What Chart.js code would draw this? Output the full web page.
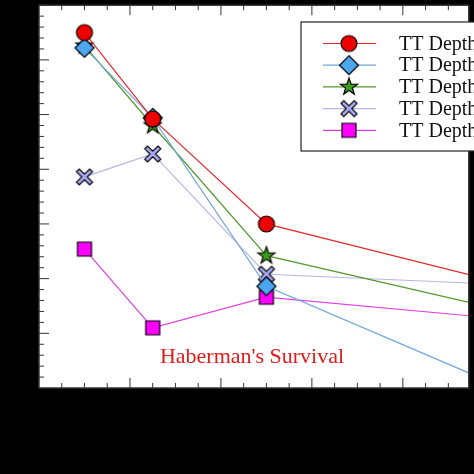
<!DOCTYPE html>
<html><head><meta charset="utf-8">
<script src="https://cdn.jsdelivr.net/npm/chart.js@4/dist/chart.umd.min.js"></script>
<style>html,body{margin:0;background:#000;}#wrap{width:474px;height:474px;}</style>
</head><body><div id="wrap"><canvas id="myChart" width="474" height="474"></canvas></div>
<script>
// depth values (x) and accuracy per series (y)
var depths = [2, 5, 10, 20];
var labels = ['TT Depth 1', 'TT Depth 2', 'TT Depth 3', 'TT Depth 4', 'TT Depth 5'];
var redVals = [32.5, 24.6, 15.0, 9.8];
var blueVals = [31.1, 24.7, 9.3, 0.4];
var greenVals = [31.3, 24.0, 12.1, 7.3];
var lilacVals = [19.3, 21.4, 10.4, 9.5];
var pinkVals = [12.7, 5.5, 8.3, 6.4];

//build marker images
function marker(kind, fill) {
    var c = document.createElement('canvas');
    c.width = 22; c.height = 22;
    var g = c.getContext('2d');
    g.translate(11, 11);
    g.fillStyle = fill; g.strokeStyle = '#000'; g.lineWidth = 1.2;
    g.beginPath();
    if (kind == 'circle') {
        g.arc(0, 0, 8, 0, Math.PI * 2);
    } else if (kind == 'diamond') {
        g.moveTo(0, -9.5); g.lineTo(9.5, 0); g.lineTo(0, 9.5); g.lineTo(-9.5, 0); g.closePath();
    } else if (kind == 'square') {
        g.rect(-7, -7, 14, 14);
    } else if (kind == 'star') {
        for (let i = 0; i < 10; i++) {
            let r = i % 2 ? 3.6 : 9;
            let a = -Math.PI / 2 + i * Math.PI / 5;
            g.lineTo(r * Math.cos(a), r * Math.sin(a));
        }
        g.closePath();
    } else if (kind == 'x') {
        let w = 2.8, l = 8;
        let pts = [[0,-w],[l-w,-l],[l,-l+w],[w,0],[l,l-w],[l-w,l],[0,w],[-l+w,l],[-l,l-w],[-w,0],[-l,-l+w],[-l+w,-l]];
        pts.forEach(p => g.lineTo(p[0], p[1]));
        g.closePath();
    }
    g.fill(); g.stroke();
    return c;
}

function series(vals) {
    return vals.map((v, i) => ({x: depths[i], y: v}));
}

var colors = ['#e8262a', '#6fa8dc', '#4f9a2b', '#b8b6e6', '#e33ee3'];
var kinds = [['circle', '#ee0000'], ['diamond', '#4da6f0'], ['star', '#3c9c1c'], ['x', '#a8a8f0'], ['square', '#ff00ff']];
var allVals = [redVals, blueVals, greenVals, lilacVals, pinkVals];
var markers = kinds.map(k => marker(k[0], k[1]));

var frame = {
    id: 'frame',
    beforeDraw(chart) {
        var ctx = chart.ctx, a = chart.chartArea;
        ctx.save();
        ctx.fillStyle = '#000';
        ctx.fillRect(0, 0, chart.width, chart.height);
        ctx.fillStyle = '#fff';
        ctx.fillRect(a.left, a.top, a.right - a.left, a.bottom - a.top);
        ctx.restore();
    },
    afterDraw(chart) {
        var ctx = chart.ctx, a = chart.chartArea;
        var xs = chart.scales.x, ys = chart.scales.y;
        ctx.save();
        ctx.strokeStyle = '#333'; ctx.lineWidth = 1.5;
        ctx.strokeRect(a.left, a.top, a.right - a.left, a.bottom - a.top);
        ctx.lineWidth = 1;
        for (let v = 1; v <= 19; v++) {
            let p = xs.getPixelForValue(v), len = v % 4 == 0 ? 10 : 5;
            if (p > a.right) break;
            ctx.beginPath();
            ctx.moveTo(p, a.bottom); ctx.lineTo(p, a.bottom - len);
            ctx.moveTo(p, a.top); ctx.lineTo(p, a.top + len);
            ctx.stroke();
        }
        for (let v = 1; v <= 35; v++) {
            let p = ys.getPixelForValue(v), len = v % 5 == 0 ? 10 : 5;
            ctx.beginPath();
            ctx.moveTo(a.left, p); ctx.lineTo(a.left + len, p);
            ctx.stroke();
        }
        // legend box
        ctx.fillStyle = '#fff';
        ctx.fillRect(301, 22, 180, 129);
        ctx.strokeStyle = '#222'; ctx.lineWidth = 1.2;
        ctx.strokeRect(301, 22, 180, 129);
        ctx.font = '20px "Liberation Serif"';
        ctx.textBaseline = 'middle';
        chart.data.datasets.forEach((d, i) => {
            let y = 43.5 + i * 21.7;
            ctx.strokeStyle = d.borderColor; ctx.lineWidth = 1.2;
            ctx.beginPath(); ctx.moveTo(323, y); ctx.lineTo(376, y); ctx.stroke();
            ctx.drawImage(markers[i], 349 - 11, y - 11);
            ctx.fillStyle = '#111';
            ctx.fillText(d.label, 399, y + 1);
        });
        ctx.fillStyle = '#dd1c1c';
        ctx.font = '22px "Liberation Serif"';
        ctx.textAlign = 'center';
        ctx.fillText("Haberman's Survival", 252, 357);
        ctx.restore();
    }
};

var ctx = document.getElementById('myChart').getContext('2d');
var myChart = new Chart(ctx, {
    type: 'line',
    data: {
        datasets: allVals.map((vals, i) => ({
            label: labels[i],
            data: series(vals),
            borderColor: colors[i],
            borderWidth: 1.2,
            pointStyle: markers[i],
            tension: 0
        }))
    },
    options: {
        responsive: false,
        animation: false,
        layout: {padding: {left: 39, top: -4, right: 0, bottom: 86}},
        plugins: {legend: {display: false}, tooltip: {enabled: false}},
        scales: {
            x: {type: 'linear', display: false, min: 0, max: 18.9},
            y: {display: false, min: 0, max: 35}
        }
    },
    plugins: [frame]
});
</script></body></html>
